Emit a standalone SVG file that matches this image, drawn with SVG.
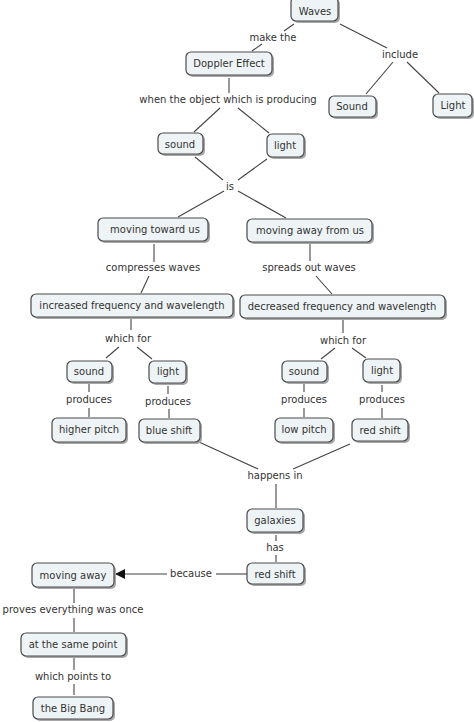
<svg xmlns="http://www.w3.org/2000/svg" width="474" height="722" viewBox="0 0 474 722">
<style>
.n rect.s{fill:#a8a8a8;}
.n rect.b{fill:#eef3f5;stroke:#4a4a4a;stroke-width:1.2;}
text{font-family:"DejaVu Sans",Verdana,sans-serif;font-size:10px;fill:#333;text-anchor:middle;dominant-baseline:central;}
#connectors line{stroke:#444;stroke-width:1.1;}
</style>
<defs>
<marker id="arr" viewBox="0 0 10 10" refX="10" refY="5" markerWidth="10" markerHeight="10" markerUnits="userSpaceOnUse" orient="auto">
<path d="M0,0 L10,5 L0,10 Z" fill="#111"/>
</marker>
</defs>
<rect width="474" height="722" fill="#fff"/>
<g id="connectors">
<line x1="294" y1="24" x2="284" y2="31"/>
<line x1="262" y1="44" x2="252" y2="51"/>
<line x1="340" y1="24" x2="387" y2="48"/>
<line x1="393" y1="62" x2="366" y2="94"/>
<line x1="407" y1="62" x2="439" y2="93"/>
<line x1="229" y1="78" x2="229" y2="93"/>
<line x1="220" y1="108" x2="194" y2="132"/>
<line x1="238" y1="108" x2="269" y2="133"/>
<line x1="195" y1="157" x2="223" y2="180"/>
<line x1="267" y1="159" x2="238" y2="180"/>
<line x1="224" y1="191" x2="178" y2="217"/>
<line x1="238" y1="191" x2="286" y2="218"/>
<line x1="154" y1="244" x2="154" y2="262"/>
<line x1="149" y1="276" x2="141" y2="293"/>
<line x1="310" y1="244" x2="310" y2="261"/>
<line x1="316" y1="276" x2="332" y2="294"/>
<line x1="131" y1="318" x2="131" y2="330"/>
<line x1="343" y1="318" x2="343" y2="333"/>
<line x1="119" y1="347" x2="106" y2="358"/>
<line x1="137" y1="347" x2="152" y2="359"/>
<line x1="335" y1="348" x2="321" y2="359"/>
<line x1="352" y1="348" x2="366" y2="358"/>
<line x1="89" y1="384" x2="89" y2="392"/>
<line x1="89" y1="408" x2="89" y2="417"/>
<line x1="168" y1="386" x2="168" y2="394"/>
<line x1="169" y1="409" x2="169" y2="418"/>
<line x1="304" y1="384" x2="304" y2="392"/>
<line x1="304" y1="408" x2="304" y2="417"/>
<line x1="382" y1="385" x2="382" y2="392"/>
<line x1="382" y1="408" x2="382" y2="418"/>
<line x1="199" y1="442" x2="258" y2="469"/>
<line x1="350" y1="444" x2="293" y2="469"/>
<line x1="276" y1="484" x2="276" y2="508"/>
<line x1="276" y1="535" x2="276" y2="541"/>
<line x1="276" y1="555" x2="276" y2="562"/>
<line x1="247" y1="574" x2="216" y2="574"/>
<line x1="167" y1="574" x2="115" y2="574" marker-end="url(#arr)"/>
<line x1="74" y1="589" x2="74" y2="603"/>
<line x1="74" y1="618" x2="74" y2="632"/>
<line x1="74" y1="658" x2="74" y2="670"/>
<line x1="74" y1="684" x2="74" y2="695"/>
</g>
<g id="labels">
<text x="273" y="37">make the</text>
<text x="400" y="54">include</text>
<text x="228" y="99">when the object which is producing</text>
<text x="230" y="186">is</text>
<text x="153" y="267">compresses waves</text>
<text x="309" y="267">spreads out waves</text>
<text x="128" y="338">which for</text>
<text x="343" y="340">which for</text>
<text x="89" y="399">produces</text>
<text x="168" y="401">produces</text>
<text x="304" y="399">produces</text>
<text x="382" y="399">produces</text>
<text x="275" y="475">happens in</text>
<text x="275" y="547">has</text>
<text x="191" y="573">because</text>
<text x="73" y="609">proves everything was once</text>
<text x="73" y="676">which points to</text>
</g>
<g id="n-waves" class="n"><rect class="s" x="293" y="-1" width="47" height="24" rx="5"/><rect class="b" x="291" y="-3" width="47" height="24" rx="5"/><text x="315" y="11">Waves</text></g>
<g id="n-doppler" class="n"><rect class="s" x="188" y="54" width="86" height="23" rx="5"/><rect class="b" x="186" y="52" width="86" height="23" rx="5"/><text x="229" y="63">Doppler Effect</text></g>
<g id="n-sound-top" class="n"><rect class="s" x="331" y="98" width="47" height="21" rx="5"/><rect class="b" x="329" y="96" width="47" height="21" rx="5"/><text x="352" y="106">Sound</text></g>
<g id="n-light-top" class="n"><rect class="s" x="435" y="96" width="39" height="23" rx="5"/><rect class="b" x="433" y="94" width="39" height="23" rx="5"/><text x="453" y="105">Light</text></g>
<g id="n-sound" class="n"><rect class="s" x="160" y="135" width="45" height="21" rx="5"/><rect class="b" x="158" y="133" width="45" height="21" rx="5"/><text x="180" y="144">sound</text></g>
<g id="n-light" class="n"><rect class="s" x="269" y="136" width="37" height="23" rx="5"/><rect class="b" x="267" y="134" width="37" height="23" rx="5"/><text x="285" y="145">light</text></g>
<g id="n-toward" class="n"><rect class="s" x="100" y="220" width="110" height="23" rx="5"/><rect class="b" x="98" y="218" width="110" height="23" rx="5"/><text x="155" y="229">moving toward us</text></g>
<g id="n-away" class="n"><rect class="s" x="249" y="221" width="125" height="23" rx="5"/><rect class="b" x="247" y="219" width="125" height="23" rx="5"/><text x="310" y="230">moving away from us</text></g>
<g id="n-increased" class="n"><rect class="s" x="33" y="296" width="202" height="23" rx="5"/><rect class="b" x="31" y="294" width="202" height="23" rx="5"/><text x="132" y="305">increased frequency and wavelength</text></g>
<g id="n-decreased" class="n"><rect class="s" x="242" y="297" width="205" height="23" rx="5"/><rect class="b" x="240" y="295" width="205" height="23" rx="5"/><text x="342" y="306">decreased frequency and wavelength</text></g>
<g id="n-sound-l" class="n"><rect class="s" x="69" y="363" width="45" height="21" rx="5"/><rect class="b" x="67" y="361" width="45" height="21" rx="5"/><text x="89" y="371">sound</text></g>
<g id="n-light-l" class="n"><rect class="s" x="151" y="363" width="37" height="22" rx="5"/><rect class="b" x="149" y="361" width="37" height="22" rx="5"/><text x="168" y="371">light</text></g>
<g id="n-sound-r" class="n"><rect class="s" x="284" y="363" width="45" height="21" rx="5"/><rect class="b" x="282" y="361" width="45" height="21" rx="5"/><text x="304" y="371">sound</text></g>
<g id="n-light-r" class="n"><rect class="s" x="365" y="361" width="37" height="23" rx="5"/><rect class="b" x="363" y="359" width="37" height="23" rx="5"/><text x="382" y="370">light</text></g>
<g id="n-higher" class="n"><rect class="s" x="54" y="420" width="74" height="24" rx="5"/><rect class="b" x="52" y="418" width="74" height="24" rx="5"/><text x="89" y="429">higher pitch</text></g>
<g id="n-blue" class="n"><rect class="s" x="141" y="421" width="61" height="23" rx="5"/><rect class="b" x="139" y="419" width="61" height="23" rx="5"/><text x="169" y="430">blue shift</text></g>
<g id="n-low" class="n"><rect class="s" x="277" y="420" width="58" height="24" rx="5"/><rect class="b" x="275" y="418" width="58" height="24" rx="5"/><text x="304" y="429">low pitch</text></g>
<g id="n-red" class="n"><rect class="s" x="354" y="421" width="56" height="22" rx="5"/><rect class="b" x="352" y="419" width="56" height="22" rx="5"/><text x="380" y="430">red shift</text></g>
<g id="n-galaxies" class="n"><rect class="s" x="249" y="511" width="56" height="23" rx="5"/><rect class="b" x="247" y="509" width="56" height="23" rx="5"/><text x="275" y="520">galaxies</text></g>
<g id="n-redshift2" class="n"><rect class="s" x="249" y="565" width="57" height="21" rx="5"/><rect class="b" x="247" y="563" width="57" height="21" rx="5"/><text x="275" y="574">red shift</text></g>
<g id="n-movingaway" class="n"><rect class="s" x="34" y="565" width="82" height="24" rx="5"/><rect class="b" x="32" y="563" width="82" height="24" rx="5"/><text x="73" y="575">moving away</text></g>
<g id="n-samepoint" class="n"><rect class="s" x="23" y="635" width="105" height="23" rx="5"/><rect class="b" x="21" y="633" width="105" height="23" rx="5"/><text x="73" y="644">at the same point</text></g>
<g id="n-bigbang" class="n"><rect class="s" x="35" y="699" width="80" height="22" rx="5"/><rect class="b" x="33" y="697" width="80" height="22" rx="5"/><text x="73" y="708">the Big Bang</text></g>
</svg>
